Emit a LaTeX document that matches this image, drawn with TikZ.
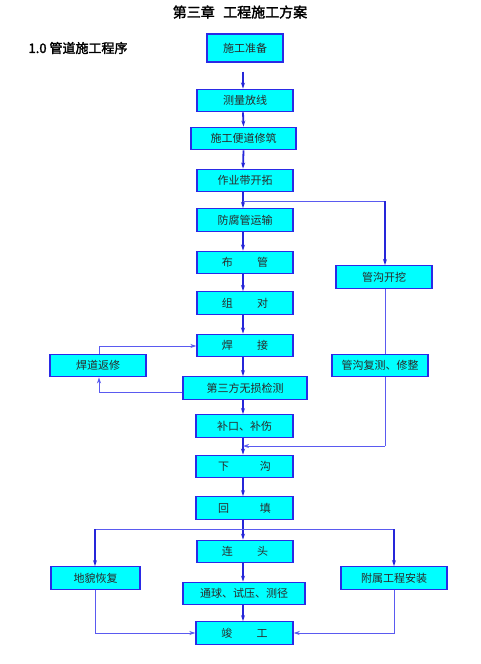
\documentclass[tikz,border=0pt]{standalone}
\usepackage{fontspec}
\newfontfamily\cjk{Noto Sans CJK SC}
\newfontfamily\cjkb[FakeBold=2]{Noto Sans CJK SC}
\usetikzlibrary{arrows.meta}
\definecolor{boxfill}{HTML}{00FFFF}
\definecolor{boxline}{HTML}{2A2AE6}
\definecolor{arrowc}{HTML}{2626D9}
\definecolor{thinc}{HTML}{5A5AF0}
\definecolor{txt}{HTML}{2A2A2A}
\begin{document}
\begin{tikzpicture}[x=1pt,y=-1pt,
  box/.style={draw=boxline,fill=boxfill,line width=1.4pt,minimum height=22.5pt,inner sep=0pt,
    text=txt,font=\cjk\fontsize{11}{12}\selectfont},
  main/.style={draw=arrowc,line width=1.8pt,-{Stealth[length=6pt,width=4pt]}},
  thin/.style={draw=thinc,line width=0.9pt},
  thinarr/.style={thin,-{Stealth[length=6pt,width=4pt]}},
  gap/.style={}]
\useasboundingbox[fill=white] (0,0) rectangle (480,664);
\node[text=black,font=\cjkb\fontsize{14}{16}\selectfont] (title) at (240,12) {第三章\hspace{0.6em}工程施工方案};
\node[text=black,font=\cjkb\fontsize{13}{15}\selectfont,anchor=west] (sec) at (25,48) {1.0 管道施工程序};
% main column
\node[box,minimum width=76pt,minimum height=28pt] (n1) at (245,48) {施工准备};
\node[box,minimum width=96pt] (n2) at (245,100.5) {测量放线};
\node[box,minimum width=105pt] (n3) at (243.5,138.5) {施工便道修筑};
\node[box,minimum width=96pt] (n4) at (245,180.5) {作业带开拓};
\node[box,minimum width=96pt] (n5) at (245,220) {防腐管运输};
\node[box,minimum width=96pt] (n6) at (245,262.5) {布\hspace{2.2em}管};
\node[box,minimum width=96pt] (n7) at (245,303) {组\hspace{2.2em}对};
\node[box,minimum width=96pt] (n8) at (245,345.5) {焊\hspace{2.2em}接};
\node[box,minimum width=124pt] (n9) at (245,388) {第三方无损检测};
\node[box,minimum width=97pt] (n10) at (244.5,426) {补口、补伤};
\node[box,minimum width=97pt] (n11) at (244.5,466.5) {下\hspace{2.8em}沟};
\node[box,minimum width=97pt] (n12) at (244.5,508) {回\hspace{2.8em}填};
\node[box,minimum width=96pt] (n13) at (245,551.5) {连\hspace{2.2em}头};
\node[box,minimum width=122pt] (n14) at (244,593.5) {通球、试压、测径};
\node[box,minimum width=97pt] (n15) at (244.5,633) {竣\hspace{2.2em}工};
% side boxes
\node[box,minimum width=96pt] (r1) at (384,277) {管沟开挖};
\node[box,minimum width=96pt] (r2) at (380,365.5) {管沟复测、修整};
\node[box,minimum width=96pt] (l1) at (98,365.5) {焊道返修};
\node[box,minimum width=89pt] (l2) at (95.5,578) {地貌恢复};
\node[box,minimum width=106pt] (r3) at (394,578) {附属工程安装};
% coordinates
\coordinate (b1) at (243,201);
\coordinate (b2) at (385,201);
\coordinate (c1) at (385,446);
\coordinate (c2) at (243,446);
\coordinate (w1) at (99,346);
\coordinate (w2) at (99,392);
\coordinate (f1) at (95,529);
\coordinate (f2) at (394,529);
\coordinate (g1) at (95,633);
\coordinate (g2) at (394,633);
% main arrows
\draw[main] ([xshift=-2pt,yshift=-9pt]n1.south) -- ([xshift=-2pt]n2.north);
\draw[main] ([xshift=-2pt]n2.south) -- (n3.north);
\draw[main] (n3.south) -- ([xshift=-2pt]n4.north);
\draw[main] ([xshift=-2pt]n4.south) -- ([xshift=-2pt]n5.north);
\draw[main] ([xshift=-2pt]n5.south) -- ([xshift=-2pt]n6.north);
\draw[main] ([xshift=-2pt]n6.south) -- ([xshift=-2pt]n7.north);
\draw[main] ([xshift=-2pt]n7.south) -- ([xshift=-2pt]n8.north);
\draw[main] ([xshift=-2pt]n8.south) -- ([xshift=-2pt]n9.north);
\draw[main] ([xshift=-2pt]n9.south) -- ([xshift=-1.5pt]n10.north);
\draw[main] ([xshift=-1.5pt]n10.south) -- ([xshift=-1.5pt]n11.north);
\draw[main] ([xshift=-1.5pt]n11.south) -- ([xshift=-1.5pt]n12.north);
\draw[main] ([xshift=-1.5pt]n12.south) -- ([xshift=-2pt]n13.north);
\draw[main] ([xshift=-2pt]n13.south) -- ([xshift=-1pt]n14.north);
\draw[main] ([xshift=-1pt]n14.south) -- ([xshift=-1.5pt]n15.north);
% branch to trench
\draw[thin] (b1) -- (b2);
\draw[main,line width=1.5pt] (b2) -- (r1.north -| b2);
\draw[thin] (r1.south -| b2) -- (r2.north -| b2);
\draw[thin] (r2.south -| b2) -- (c1);
\draw[thinarr] (c1) -- (c2);
% repair loop
\draw[thinarr] (l1.north -| w1) -- (w1) -- (w1 -| n8.west);
\draw[thinarr] (w2 -| n9.west) -- (w2) -- (l1.south -| w2);
% backfill branches
\draw[thin] (f1) -- (f2);
\draw[main,line width=1.5pt] (f1) -- (l2.north -| f1);
\draw[main,line width=1.5pt] (f2) -- (r3.north -| f2);
\draw[thinarr] (l2.south -| g1) -- (g1) -- (g1 -| n15.west);
\draw[thinarr] (r3.south -| g2) -- (g2) -- (g2 -| n15.east);
\end{tikzpicture}
\end{document}
